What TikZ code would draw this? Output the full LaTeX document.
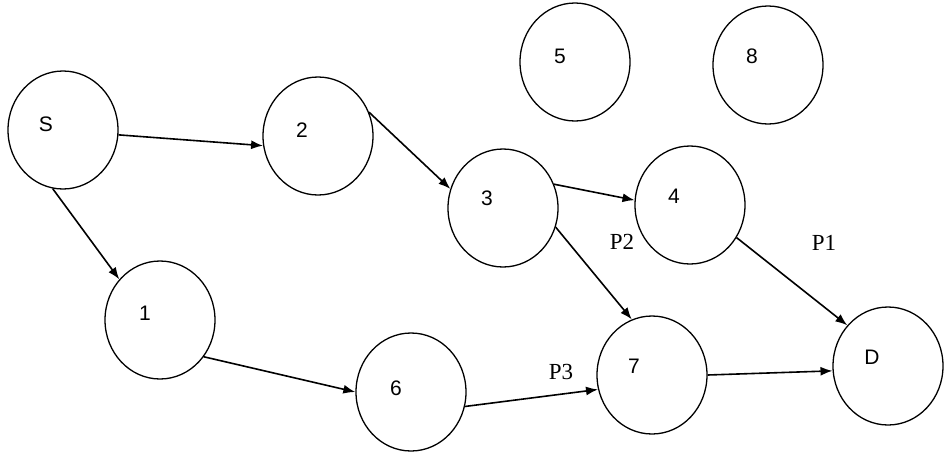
\documentclass[tikz,border=0pt]{standalone}
\usepackage{fontspec}
\setmainfont{Liberation Serif}
\setsansfont{Liberation Sans}
\usetikzlibrary{shapes.geometric,arrows.meta}
\begin{document}
\begin{tikzpicture}[x=1pt,y=-1pt,
  nd/.style={draw,ellipse,minimum width=110pt,minimum height=118pt,inner sep=0pt,line width=1.3pt},
  lb/.style={font=\sffamily\fontsize{21}{24}\selectfont},
  pl/.style={font=\fontsize{23}{26}\selectfont},
  ar/.style={-{Latex[length=12pt,width=9pt]},line width=1.6pt}]
\useasboundingbox (0,0) rectangle (950,464);
\node[nd] (S) at (63,130) {}; \node[lb] (Sl) at (46,124) {S};
\node[nd] (n2) at (318,136) {}; \node[lb] (l2) at (302,130) {2};
\node[nd] (n3) at (503,208) {}; \node[lb] (l3) at (487,198) {3};
\node[nd] (n5) at (575,62) {}; \node[lb] (l5) at (560,56) {5};
\node[nd] (n8) at (768,65) {}; \node[lb] (l8) at (752,56) {8};
\node[nd] (n4) at (690,205) {}; \node[lb] (l4) at (674,196) {4};
\node[nd] (n1) at (160,320) {}; \node[lb] (l1) at (145,313) {1};
\node[nd] (n6) at (411,392) {}; \node[lb] (l6) at (396,388) {6};
\node[nd] (n7) at (652,375) {}; \node[lb] (l7) at (634,366) {7};
\node[nd] (D) at (888,366) {}; \node[lb] (Dl) at (872,357) {D};
\node[pl] (P1) at (824,243) {P1};
\node[pl] (P2) at (622,242) {P2};
\node[pl] (P3) at (561,372) {P3};
\draw[ar] (S.-5) -- (n2.190);
\draw[ar] (n2.25) -- (n3.160);
\draw[ar] (n3.25) -- (n4.175);
\draw[ar] (n3.-20) -- (n7.110);
\draw[ar] (n4.-35) -- (D.135);
\draw[ar] (S.-100) -- (n1.135);
\draw[ar] (n1.-40) -- (n6.180);
\draw[ar] (n6.-15) -- (n7.195);
\draw[ar] (n7.0) -- (D.185);
\end{tikzpicture}
\end{document}
